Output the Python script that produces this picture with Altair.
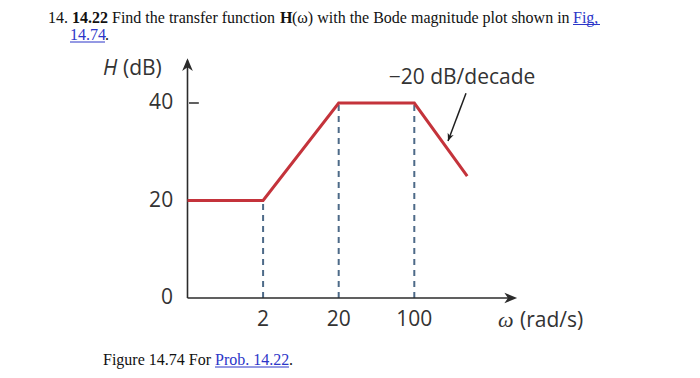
import altair as alt
import pandas as pd

# ---------------- data ----------------
# schematic (decade-like) x positions used by the figure, with their labels
x_tick_pos = [1, 2, 3]
x_tick_labels = ["2", "20", "100"]
y_tick_vals = [0, 20, 40]
y_tick_labels = ["0", "20", "40"]

# Bode magnitude asymptote (x in schematic positions, H in dB)
bode_pos = [0, 1, 2, 3, 3.7]
bode_db = [20, 20, 40, 40, 25]

# dashed guides: up to the curve at each corner frequency
guide_pos = [1, 2, 3]
guide_top = [20, 40, 40]

# callout arrow for the -20 dB/decade slope (start -> tip)
callout_pos = [3.684, 3.446]
callout_db = [42.0, 32.2]

# axis extents (arrow tips)
x_axis_end = 4.36
y_axis_end = 49.2

# ---------------- scales ----------------
W, H = 684, 362
XS = alt.Scale(domain=[-2.3743, 6.6733], nice=False, zero=False)
YS = alt.Scale(domain=[-14.769, 59.487], nice=False, zero=False)


def X(f):
    return alt.X(f, type="quantitative", scale=XS, axis=None)


def Y(f):
    return alt.Y(f, type="quantitative", scale=YS, axis=None)


AX = "#2b2b2b"
RED = "#c4333b"
DASH = "#4d6a88"
TXT = "#333333"
SANS = "Open Sans"
SERIF = "Liberation Serif"
LINK = "#2b35c8"

ARROW = "M0,0L-0.42,1L0,0.72L0.42,1Z"

layers = []

# dashed guides
gdf = pd.DataFrame({"x": guide_pos, "y0": [0] * len(guide_pos), "y1": guide_top})
layers.append(
    alt.Chart(gdf)
    .mark_rule(color=DASH, strokeWidth=2, strokeDash=[6, 5])
    .encode(x=X("x"), y=Y("y0"), y2="y1")
)

# axes lines
axdf = pd.DataFrame({"x0": [0], "x1": [x_axis_end - 0.05], "y0": [0], "y1": [y_axis_end - 0.5]})
layers.append(
    alt.Chart(axdf).mark_rule(color=AX, strokeWidth=1.6).encode(x=X("x0"), x2="x1", y=Y("y0"))
)
layers.append(
    alt.Chart(axdf).mark_rule(color=AX, strokeWidth=1.6).encode(x=X("x0"), y=Y("y0"), y2="y1")
)

# arrow heads of axes
headdf = pd.DataFrame({"x": [0, x_axis_end], "y": [y_axis_end, 0], "a": [0, 90]})
layers.append(
    alt.Chart(headdf)
    .mark_point(shape=ARROW, filled=True, size=650, color=AX, opacity=1)
    .encode(x=X("x"), y=Y("y"), angle=alt.Angle("a:Q", scale=None))
)

# tick at 40 dB
tdf = pd.DataFrame({"x0": [0.02], "x1": [0.15], "y": [40]})
layers.append(
    alt.Chart(tdf).mark_rule(color=AX, strokeWidth=1.5).encode(x=X("x0"), x2="x1", y=Y("y"))
)

# Bode curve
bdf = pd.DataFrame({"x": bode_pos, "y": bode_db, "o": list(range(len(bode_pos)))})
layers.append(
    alt.Chart(bdf)
    .mark_line(color=RED, strokeWidth=3, strokeJoin="miter", strokeCap="butt")
    .encode(x=X("x"), y=Y("y"), order="o:Q")
)

# callout arrow
cdf = pd.DataFrame({"x": callout_pos[:1], "x2": callout_pos[1:], "y": callout_db[:1], "y2": callout_db[1:]})
layers.append(
    alt.Chart(cdf).mark_rule(color="#1e1e1e", strokeWidth=1.5).encode(x=X("x"), x2="x2", y=Y("y"), y2="y2")
)
chdf = pd.DataFrame({"x": [callout_pos[1]], "y": [callout_db[1]], "a": [200.5]})
layers.append(
    alt.Chart(chdf)
    .mark_point(shape=ARROW, filled=True, size=230, color="#1e1e1e", opacity=1)
    .encode(x=X("x"), y=Y("y"), angle=alt.Angle("a:Q", scale=None))
)

# tick labels
xl = pd.DataFrame({"x": x_tick_pos, "y": [-4.5] * 3, "t": x_tick_labels})
layers.append(
    alt.Chart(xl)
    .mark_text(font=SANS, fontSize=21, color=TXT, baseline="middle", align="center")
    .encode(x=X("x"), y=Y("y"), text="t:N")
)
yl = pd.DataFrame({"x": [-0.19] * 3, "y": y_tick_vals, "t": y_tick_labels})
layers.append(
    alt.Chart(yl)
    .mark_text(font=SANS, fontSize=21, color=TXT, baseline="middle", align="right")
    .encode(x=X("x"), y=Y("y"), text="t:N")
)


def label(txt, px, py, **kw):
    base = dict(baseline="alphabetic", align="left")
    base.update(kw)
    return (
        alt.Chart(pd.DataFrame({"t": [txt]}))
        .mark_text(**base)
        .encode(x=alt.value(px - 8), y=alt.value(py - 8), text="t:N")
    )


def underline(px0, px1, py, color=LINK):
    return (
        alt.Chart(pd.DataFrame({"t": [0]}))
        .mark_rule(color=color, strokeWidth=1)
        .encode(x=alt.value(px0 - 8), x2=alt.value(px1 - 8), y=alt.value(py - 8))
    )


# axis titles
layers.append(label("H", 103, 75, font=SANS, fontSize=21, fontStyle="italic", color=TXT))
layers.append(label("(dB)", 123, 75, font=SANS, fontSize=21, color=TXT))
layers.append(label("ω", 498, 327, font=SERIF, fontSize=22, fontStyle="italic", color=TXT))
layers.append(label("(rad/s)", 520, 327, font=SANS, fontSize=21, color=TXT))
layers.append(label("\u221220 dB/decade", 462, 78, font=SANS, fontSize=21, color=TXT,
                    align="center", baseline="middle"))

# problem statement
TS = 16
TY = 22.5
TY2 = 40
layers.append(label("14.", 48, TY, font=SERIF, fontSize=TS, color="#111"))
layers.append(label("14.22", 72, TY, font=SERIF, fontSize=TS, fontWeight="bold", color="#111"))
layers.append(label("Find the transfer function", 112, TY, font=SERIF, fontSize=TS, color="#111"))
layers.append(label("H", 280, TY, font=SERIF, fontSize=TS, fontWeight="bold", color="#111"))
layers.append(label("(ω) with the Bode magnitude plot shown in", 292, TY, font=SERIF, fontSize=TS, color="#111"))
layers.append(label("Fig,", 573, TY, font=SERIF, fontSize=TS, color=LINK))
layers.append(underline(573, 600, TY + 2))
layers.append(label("14.74", 70, TY2, font=SERIF, fontSize=TS, color=LINK))
layers.append(underline(70, 105, TY2 + 2))
layers.append(label(".", 105, TY2, font=SERIF, fontSize=TS, color="#111"))

# caption
layers.append(label("Figure 14.74 For", 103, 365, font=SERIF, fontSize=16, color="#111"))
layers.append(label("Prob. 14.22", 215, 365, font=SERIF, fontSize=16, color=LINK))
layers.append(underline(215, 289, 367))
layers.append(label(".", 289, 365, font=SERIF, fontSize=16, color="#111"))

chart = (
    alt.layer(*layers)
    .properties(width=W, height=H, autosize=alt.AutoSizeParams(type="none"), padding=0,
                background="white")
    .configure_view(stroke=None)
)

chart.save("out.html", embed_options={"renderer": "svg", "actions": False})
